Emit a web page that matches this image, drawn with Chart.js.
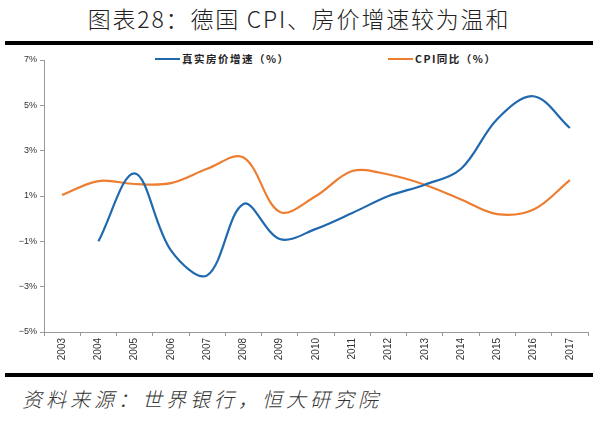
<!DOCTYPE html>
<html><head><meta charset="utf-8">
<script src="https://cdn.jsdelivr.net/npm/chart.js@4"></script>
<style>
html,body{margin:0;padding:0;background:#fff;}
#wrap{position:relative;width:598px;height:421px;overflow:hidden;background:#fff;}
#title{position:absolute;left:0;top:2px;width:598px;text-align:center;font-family:"Noto Sans CJK SC";font-weight:300;font-size:23px;letter-spacing:1.8px;color:#222;line-height:32px;}
.bar{position:absolute;left:5px;width:588px;height:4px;background:#000;}
#source{position:absolute;left:22px;top:385px;font-family:"Noto Sans CJK SC";font-weight:300;font-style:italic;font-size:20px;letter-spacing:4px;color:#333;line-height:28px;}
.leg{position:absolute;top:51px;font-family:"Noto Sans CJK SC";font-weight:700;font-size:10.5px;letter-spacing:1.5px;color:#222;line-height:16px;white-space:nowrap;}
.leg i{display:inline-block;width:25px;height:2px;vertical-align:middle;margin-right:2px;margin-top:-2px;}
#c{position:absolute;left:0;top:48px;}
</style></head>
<body><div id="wrap">
<div id="title">图表28：德国 CPI、房价增速较为温和</div>
<div class="bar" style="top:41px"></div>
<div class="leg" id="leg1" style="left:155px"><i style="background:#2069AF"></i>真实房价增速（%）</div>
<div class="leg" id="leg2" style="left:388px"><i style="background:#ED7D31"></i>CPI同比（%）</div>
<canvas id="c" width="598" height="322"></canvas>
<div class="bar" style="top:373px"></div>
<div id="source">资料来源：世界银行，恒大研究院</div>
</div>
<script>
const years = ['2003','2004','2005','2006','2007','2008','2009','2010','2011','2012','2013','2014','2015','2016','2017'];
const housePrice = [null,-1.0,2.0,-1.4,-2.5,0.65,-0.9,-0.45,0.25,1.0,1.5,2.2,4.4,5.4,4.0];
const cpi = [1.05,1.66,1.53,1.57,2.2,2.7,0.3,1.0,2.1,1.95,1.5,0.85,0.2,0.4,1.7];
const yTickValues = [-5,-3,-1,1,3,5,7];
const yTickLabels = ['\u22125%','\u22123%','\u22121%','1%','3%','5%','7%'];
const seriesNames = ['真实房价增速（%）','CPI同比（%）'];

const tickFont = {family:'"Liberation Sans Narrow","Arial Narrow","Liberation Sans",sans-serif', size:9};
const xTickFont = {family:'"Liberation Sans Narrow","Arial Narrow","Liberation Sans",sans-serif', size:10};
new Chart(document.getElementById('c'), {
  type:'line',
  data:{labels:years, datasets:[
    {label:seriesNames[0], data:housePrice, borderColor:'#2069AF', borderWidth:2.2, pointRadius:0, tension:0.35, fill:false},
    {label:seriesNames[1], data:cpi, borderColor:'#ED7D31', borderWidth:2.2, pointRadius:0, tension:0.35, fill:false}
  ]},
  options:{
    responsive:false, animation:false, devicePixelRatio:1,
    layout:{padding:{left:0,right:10,top:12,bottom:0}},
    plugins:{legend:{display:false}, tooltip:{enabled:false}},
    scales:{
      x:{offset:true,
        grid:{display:true, drawOnChartArea:false, drawTicks:true, tickLength:4, color:'#999', offset:true},
        border:{color:'#999', width:1},
        ticks:{minRotation:90, maxRotation:90, autoSkip:false, font:xTickFont, color:'#333', padding:2},
        afterFit:(s)=>{s.height=38;}
      },
      y:{min:-5, max:7,
        afterBuildTicks:(s)=>{s.ticks = yTickValues.map(v=>({value:v}));},
        grid:{display:true, drawOnChartArea:false, drawTicks:true, tickLength:4, color:'#999'},
        border:{color:'#999', width:1},
        ticks:{font:tickFont, color:'#333', padding:3,
          callback:(v)=>{const i=yTickValues.indexOf(v); return i>=0?yTickLabels[i]:'';}},
        afterFit:(s)=>{s.width=44;}
      }
    }
  }
});
</script>
</body></html>
